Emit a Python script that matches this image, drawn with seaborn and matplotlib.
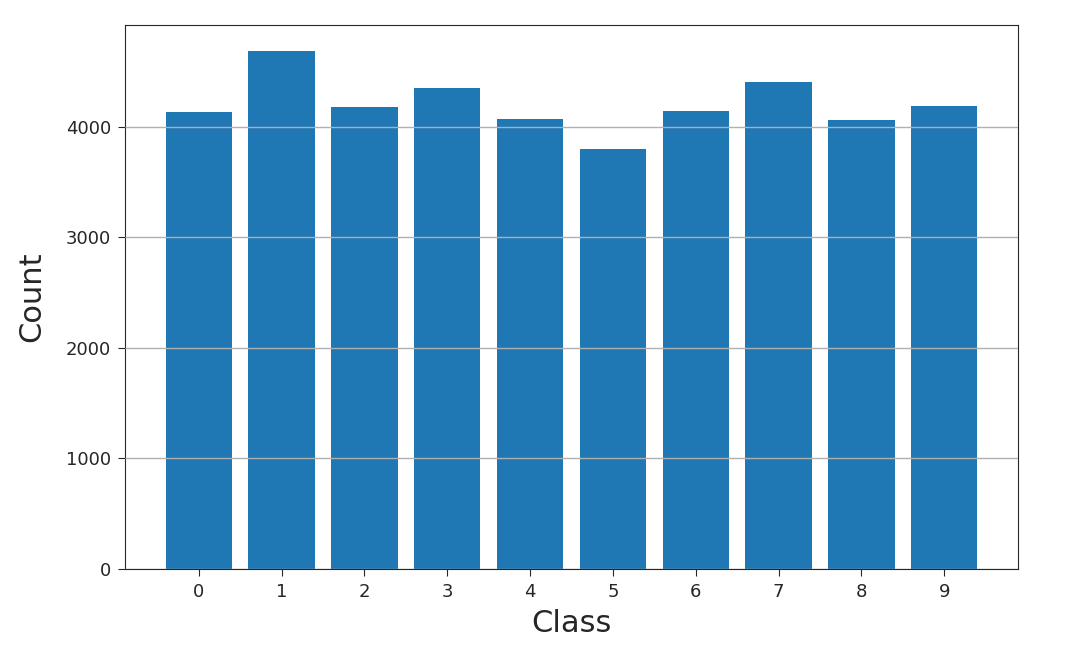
import matplotlib
matplotlib.use("Agg")
import matplotlib.pyplot as plt
import seaborn as sns
import pandas as pd

# Data
classes = [0, 1, 2, 3, 4, 5, 6, 7, 8, 9]
counts = [4132, 4684, 4177, 4351, 4072, 3795, 4137, 4401, 4063, 4188]

df = pd.DataFrame({'Class': classes, 'Count': counts})

sns.set_style("ticks")
plt.rcParams['font.family'] = ['DejaVu Sans']

fig = plt.figure(figsize=(10.84, 6.54), dpi=100)
ax = fig.add_axes([125 / 1084, 85 / 654, 893 / 1084, 544 / 654])
sns.barplot(x='Class', y='Count', data=df, color='#1f77b4', saturation=1,
            width=0.8, errorbar=None, linewidth=0, ax=ax, zorder=1)
ax.set_xlim(-0.89, 9.89)
ax.set_ylim(0, max(counts) * 1.05)
ax.set_yticks([0, 1000, 2000, 3000, 4000])
ax.yaxis.grid(True, color='#b0b0b0', linewidth=1.0, zorder=2)
ax.set_axisbelow(False)
for sp in ax.spines.values():
    sp.set_visible(True)
ax.tick_params(labelsize=13, length=5, pad=5)
ax.set_xlabel('Class', fontsize=22, labelpad=6)
ax.set_ylabel('Count', fontsize=22, labelpad=14)
fig.savefig('out.png', dpi=100)
